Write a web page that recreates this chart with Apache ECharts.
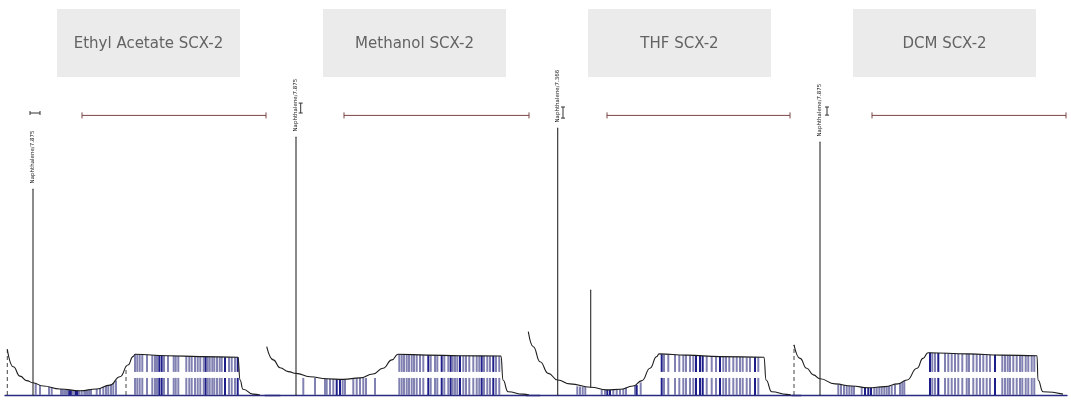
<!DOCTYPE html>
<html>
<head>
<meta charset="utf-8">
<script src="https://cdn.jsdelivr.net/npm/echarts@6/dist/echarts.min.js"></script>
<style>
  html, body { margin: 0; padding: 0; background: #ffffff; }
  #main { width: 1071px; height: 404px; }
</style>
</head>
<body>
<div id="main"></div>
<script>
// panel titles and peak annotations
const titles = ['Ethyl Acetate SCX-2', 'Methanol SCX-2', 'THF SCX-2', 'DCM SCX-2']
const peakLabels = ['Naphthalene/7.875', 'Naphthalene/7.875', 'Naphthalene/7.366', 'Naphthalene/7.875']

// UV traces [time, absorbance]
const trace1 = [[0.23, 15.2], [0.83, 9.4], [1.5, 6.3], [2.17, 4.8], [2.77, 4.1], [3.83, 3.0], [5.5, 2.0], [7.5, 1.4], [9.17, 2.0], [10.5, 3.3], [11.5, 6.1], [12.3, 10], [12.8, 12.8], [13.0, 13.6], [16.2, 13.1], [19.5, 12.8], [23.3, 12.6], [23.5, 5], [23.8, 1.9], [24.8, 0.3], [25.5, 0]]
const trace2 = [[0.17, 16.1], [0.83, 11.7], [1.5, 9.1], [2.33, 7.8], [3.1, 7.2], [4.5, 6.1], [6.17, 5.4], [7.83, 5.2], [9.5, 5.7], [10.8, 7], [11.8, 8.9], [12.7, 11.7], [13.3, 13.6], [16.2, 13.3], [19.5, 13.1], [23.6, 13], [23.8, 5], [24.3, 1.1], [25.8, 0.3], [26.4, 0]]
const trace3 = [[0.23, 21.1], [0.73, 16.1], [1.4, 11.1], [2.23, 7.2], [3.17, 5], [4.4, 3.7], [6.47, 2.6], [8.07, 1.7], [9.4, 1.9], [10.7, 3], [11.6, 4.8], [12.4, 8.9], [13.07, 12.8], [13.3, 13.7], [16.07, 13.3], [19.4, 12.8], [23.8, 12.6], [24, 5], [24.57, 1.1], [26.07, 0.2], [26.5, 0]]
const trace4 = [[0.2, 16.7], [0.8, 12.2], [1.47, 8.9], [2.13, 6.7], [2.8, 5.4], [4.3, 3.7], [5.97, 3], [7.63, 2.4], [9.3, 2.8], [10.6, 3.7], [11.5, 5], [12.5, 8.9], [13.1, 12.2], [13.6, 14.1], [17.6, 13.7], [20.97, 13.3], [24.5, 13.1], [24.6, 5], [25.1, 1.1], [27.1, 0.3]]

// sharp peaks [time, base, top]
const peaks1 = [[2.8, 0, 68.7]]
const peaks2 = [[3.1, 0, 86]]
const peaks3 = [[3.17, 0, 89], [6.47, 2.6, 35]]
const peaks4 = [[2.8, 0, 84.3]]

// collected fractions [time, height]
const frac1 = [[3.07, 3.8], [3.5, 3.3], [4.4, 2.7], [4.67, 2.5], [5.6, 2.0], [5.77, 1.9], [5.93, 1.8], [6.1, 1.8], [6.27, 1.7], [6.43, 1.6], [6.6, 1.6], [6.77, 1.5], [6.93, 1.5], [7.1, 1.4], [7.27, 1.4], [7.43, 1.4], [7.67, 1.4], [7.93, 1.5], [8.1, 1.6], [8.27, 1.6], [8.43, 1.7], [8.6, 1.8], [9.17, 2.0], [9.5, 2.3], [9.83, 2.7], [10.1, 3.0], [10.33, 3.2], [10.6, 3.5], [10.83, 4.0], [11.1, 4.8],
  [13.0, 13.6], [13.23, 13.5], [13.47, 13.5], [13.73, 13.4], [14.2, 13.4], [14.73, 13.3], [15.0, 13.3], [15.2, 13.3], [15.43, 13.2], [15.67, 13.2], [15.9, 13.2], [16.3, 13.1], [16.87, 13.1], [17.07, 13.0], [17.33, 13.0], [18.13, 13.0], [18.43, 12.9], [18.67, 12.9], [19.0, 12.9], [19.27, 12.8], [19.53, 12.8], [19.87, 12.8], [20.07, 12.8], [20.27, 12.8], [20.47, 12.7], [20.73, 12.7], [20.93, 12.7], [21.2, 12.7], [21.47, 12.7], [21.67, 12.7], [22.0, 12.6], [22.4, 12.6], [22.67, 12.6], [23.0, 12.6], [23.27, 12.6]]
const frac2 = [[3.83, 6.6], [5.0, 5.9], [6.0, 5.5], [6.17, 5.4], [6.5, 5.3], [6.83, 5.3], [7.17, 5.2], [7.5, 5.2], [7.77, 5.2], [8.0, 5.2], [8.83, 5.4], [9.17, 5.6], [9.5, 5.7], [9.83, 6.0], [10.1, 6.3], [11.0, 7.5],
  [13.43, 13.6], [13.67, 13.5], [13.9, 13.5], [14.17, 13.5], [14.4, 13.5], [14.67, 13.4], [14.9, 13.4], [15.17, 13.4], [15.5, 13.4], [15.83, 13.3], [16.33, 13.3], [16.57, 13.3], [17.0, 13.3], [17.23, 13.2], [17.67, 13.2], [17.93, 13.2], [18.33, 13.2], [18.57, 13.2], [18.77, 13.1], [19.0, 13.1], [19.23, 13.1], [19.5, 13.1], [19.83, 13.1], [20.1, 13.1], [20.43, 13.1], [20.83, 13.1], [21.17, 13.0], [21.43, 13.0], [21.67, 13.0], [21.9, 13.0], [22.23, 13.0], [22.5, 13.0], [22.83, 13.0], [23.1, 13.0], [23.43, 13.0]]
const frac3 = [[5.13, 2.9], [5.4, 2.8], [5.67, 2.8], [5.93, 2.7], [7.57, 1.8], [7.9, 1.7], [8.13, 1.7], [8.4, 1.7], [8.73, 1.8], [9.07, 1.9], [9.4, 1.9], [9.73, 2.1], [10.0, 2.4], [10.9, 3.1], [11.07, 3.3], [11.47, 4.2],
  [13.57, 13.6], [13.8, 13.5], [14.23, 13.5], [14.9, 13.4], [15.33, 13.3], [15.73, 13.3], [16.0, 13.3], [16.4, 13.2], [16.73, 13.2], [17.0, 13.1], [17.4, 13.1], [17.67, 13.0], [18.07, 13.0], [18.57, 12.9], [19.0, 12.9], [19.4, 12.8], [19.73, 12.8], [20.0, 12.8], [20.33, 12.7], [20.73, 12.7], [21.07, 12.7], [21.4, 12.7], [21.67, 12.7], [22.07, 12.6], [22.4, 12.6], [22.9, 12.6], [23.23, 12.6]]
const frac4 = [[4.63, 3.5], [4.9, 3.4], [5.2, 3.3], [5.47, 3.2], [5.73, 3.1], [5.97, 3.0], [6.2, 3.0], [6.97, 2.6], [7.3, 2.5], [7.63, 2.4], [7.9, 2.4], [8.23, 2.5], [8.47, 2.6], [8.73, 2.7], [8.97, 2.7], [9.23, 2.8], [9.47, 2.9], [9.7, 3.0], [9.97, 3.1], [10.3, 3.5], [10.8, 4.0], [11.03, 4.4], [11.23, 4.8],
  [13.8, 14.1], [14.03, 14.1], [14.3, 14.0], [14.63, 14.0], [15.3, 14.0], [15.63, 13.9], [15.97, 13.9], [16.3, 13.9], [16.63, 13.8], [17.03, 13.8], [17.47, 13.7], [17.7, 13.7], [18.13, 13.7], [18.47, 13.6], [18.8, 13.6], [19.13, 13.5], [19.47, 13.5], [19.8, 13.4], [20.3, 13.4], [21.03, 13.3], [21.3, 13.3], [21.57, 13.3], [21.8, 13.2], [22.13, 13.2], [22.47, 13.2], [22.8, 13.2], [23.03, 13.1], [23.37, 13.1], [23.63, 13.1], [23.97, 13.1], [24.23, 13.1]]

// fractions drawn dark (by time)
const dark1 = [6.43, 6.6, 7.1, 7.27, 15.43, 15.67, 20.07, 22.0, 23.27]
const dark2 = [7.17, 7.5, 16.33, 17.67, 18.57, 19.5, 21.67, 22.83]
const dark3 = [8.13, 8.4, 11.07, 13.57, 17.0, 17.4, 17.67, 19.4, 22.9]
const dark4 = [7.3, 7.63, 7.9, 13.8, 14.63, 20.3]

// collection window [start, end]
const range1 = [7.7, 26.1]
const range2 = [7.9, 26.4]
const range3 = [8.1, 26.4]
const range4 = [8.0, 27.4]

// small markers near the peak label [x1, y1, x2, y2]
const mark1 = [[2.5, 94, 3.5, 94]]
const mark2 = [[3.57, 94, 3.57, 97.3]]
const mark3 = [[3.7, 92.3, 3.7, 96]]
const mark4 = [[3.5, 93.3, 3.5, 96]]

// dashed event markers [time, height]
const dash1 = [[0.23, 15.2], [12.1, 9.5]]
const dash2 = []
const dash3 = []
const dash4 = [[0.2, 16.7]]

const panels = [
  { trace: trace1, peaks: peaks1, frac: frac1, dark: dark1, range: range1, mark: mark1, dash: dash1 },
  { trace: trace2, peaks: peaks2, frac: frac2, dark: dark2, range: range2, mark: mark2, dash: dash2 },
  { trace: trace3, peaks: peaks3, frac: frac3, dark: dark3, range: range3, mark: mark3, dash: dash3 },
  { trace: trace4, peaks: peaks4, frac: frac4, dark: dark4, range: range4, mark: mark4, dash: dash4 }
]

// layout
const gridLefts = [5, 265, 526, 792]
const boxLefts = [57, 323, 588, 853]
const RANGE_Y = 93.2
const GAP_LO = 5.7
const GAP_HI = 7.7
const BAR_W = 2
const LIGHT = '#8282b2'
const DARK = '#1e1e8a'

const grids = []
const xAxes = []
const yAxes = []
const series = []
const graphics = []

panels.forEach((p, i) => {
  grids.push({ left: gridLefts[i], top: 95, width: 275, height: 300 })
  xAxes.push({
    gridIndex: i, type: 'value', min: 0, max: 27.5,
    axisLine: { show: true, lineStyle: { color: '#2a2a80', width: 1.3 } },
    axisTick: { show: false }, axisLabel: { show: false }, splitLine: { show: false }
  })
  yAxes.push({ gridIndex: i, type: 'value', min: 0, max: 100, show: false, splitLine: { show: false } })

  // fraction bars, split by a white band
  series.push({
    type: 'custom', xAxisIndex: i, yAxisIndex: i, data: p.frac, encode: { x: 0, y: 1 }, z: 2,
    renderItem: (params, api) => {
      const x = api.value(0)
      const h = api.value(1)
      const color = p.dark.indexOf(x) >= 0 ? DARK : LIGHT
      const b = api.coord([x, 0])
      const t = api.coord([x, h])
      const kids = []
      if (h <= GAP_HI) {
        const top = h > GAP_LO ? api.coord([x, GAP_LO])[1] : t[1]
        kids.push({ type: 'rect', shape: { x: b[0] - BAR_W / 2, y: top, width: BAR_W, height: b[1] - top }, style: { fill: color } })
      } else {
        const lo = api.coord([x, GAP_LO])[1]
        const hi = api.coord([x, GAP_HI])[1]
        kids.push({ type: 'rect', shape: { x: b[0] - BAR_W / 2, y: lo, width: BAR_W, height: b[1] - lo }, style: { fill: color } })
        kids.push({ type: 'rect', shape: { x: b[0] - BAR_W / 2, y: t[1], width: BAR_W, height: hi - t[1] }, style: { fill: color } })
      }
      return { type: 'group', children: kids }
    }
  })

  // UV trace
  series.push({
    type: 'line', xAxisIndex: i, yAxisIndex: i, data: p.trace, z: 3,
    showSymbol: false, smooth: 0.5, smoothMonotone: 'x',
    lineStyle: { color: '#1c1c1c', width: 1.1 }
  })

  // peaks
  p.peaks.forEach((pk, k) => {
    const top = { value: [pk[0], pk[2]] }
    if (k === 0) {
      top.label = {
        show: true, position: 'top', distance: 5, rotate: 90, align: 'left', verticalAlign: 'middle',
        formatter: peakLabels[i], fontSize: 5.5, color: '#222', fontFamily: 'DejaVu Sans'
      }
    }
    series.push({
      type: 'line', xAxisIndex: i, yAxisIndex: i, z: 4,
      showSymbol: true, symbol: 'circle', symbolSize: 1, itemStyle: { color: '#333' },
      data: [[pk[0], pk[1]], top],
      lineStyle: { color: '#2a2a2a', width: 1.1 }
    })
  })

  // collection window
  series.push({
    type: 'custom', xAxisIndex: i, yAxisIndex: i, data: [p.range], encode: { x: [0, 1] }, z: 4,
    renderItem: (params, api) => {
      const a = api.coord([api.value(0), RANGE_Y])
      const b = api.coord([api.value(1), RANGE_Y])
      const st = { stroke: '#7a4646', lineWidth: 1 }
      return {
        type: 'group', children: [
          { type: 'line', shape: { x1: a[0], y1: a[1], x2: b[0], y2: b[1] }, style: st },
          { type: 'line', shape: { x1: a[0], y1: a[1] - 3, x2: a[0], y2: a[1] + 3 }, style: st },
          { type: 'line', shape: { x1: b[0], y1: b[1] - 3, x2: b[0], y2: b[1] + 3 }, style: st }
        ]
      }
    }
  })

  // small markers
  series.push({
    type: 'custom', xAxisIndex: i, yAxisIndex: i, data: p.mark, encode: { x: [0, 2], y: [1, 3] }, z: 5,
    renderItem: (params, api) => {
      const a = api.coord([api.value(0), api.value(1)])
      const b = api.coord([api.value(2), api.value(3)])
      const st = { stroke: '#333', lineWidth: 1 }
      const horiz = Math.abs(a[1] - b[1]) < 1
      const cap = (q) => horiz
        ? { type: 'line', shape: { x1: q[0], y1: q[1] - 2, x2: q[0], y2: q[1] + 2 }, style: st }
        : { type: 'line', shape: { x1: q[0] - 2, y1: q[1], x2: q[0] + 2, y2: q[1] }, style: st }
      return {
        type: 'group', children: [
          { type: 'line', shape: { x1: a[0], y1: a[1], x2: b[0], y2: b[1] }, style: st }, cap(a), cap(b)
        ]
      }
    }
  })

  // dashed event lines
  series.push({
    type: 'custom', xAxisIndex: i, yAxisIndex: i, data: p.dash, encode: { x: 0, y: 1 }, z: 3,
    renderItem: (params, api) => {
      const b = api.coord([api.value(0), 0])
      const t = api.coord([api.value(0), api.value(1)])
      return { type: 'line', shape: { x1: b[0], y1: b[1], x2: t[0], y2: t[1] }, style: { stroke: '#444', lineWidth: 1, lineDash: [4, 3] } }
    }
  })

  // title boxes
  graphics.push({ type: 'rect', shape: { x: boxLefts[i], y: 9, width: 183, height: 68 }, style: { fill: '#ebebeb' }, z: 1 })
  graphics.push({
    type: 'text', x: boxLefts[i] + 91.5, y: 44, z: 2,
    style: { text: titles[i], fill: '#636363', fontSize: 15, fontFamily: 'DejaVu Sans', align: 'center', verticalAlign: 'middle', textAlign: 'center', textVerticalAlign: 'middle' }
  })
})

const chart = echarts.init(document.getElementById('main'), null, { renderer: 'canvas' })
chart.setOption({
  animation: false,
  backgroundColor: '#ffffff',
  grid: grids,
  xAxis: xAxes,
  yAxis: yAxes,
  graphic: graphics,
  series: series
})
</script>
</body>
</html>
